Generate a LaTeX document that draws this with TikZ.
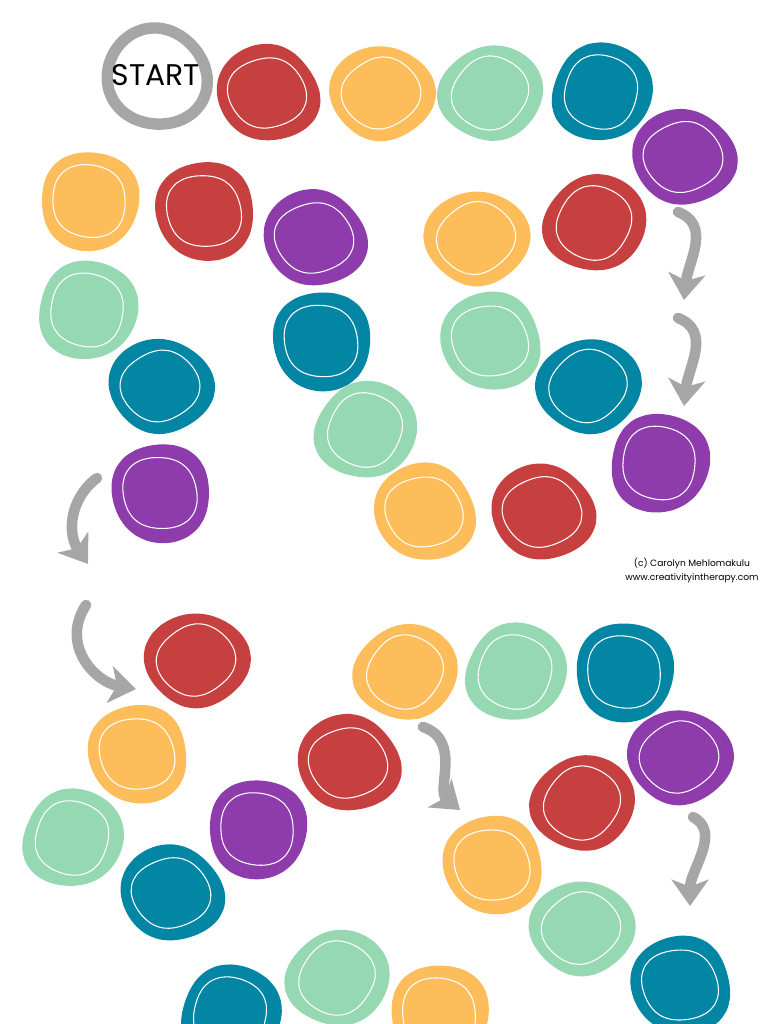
\documentclass[tikz,border=0pt]{standalone}
\usepackage{fontspec}
\setmainfont{Poppins}
\usetikzlibrary{arrows.meta}
\definecolor{spotred}{HTML}{C74040}
\definecolor{spotyellow}{HTML}{FDBD5A}
\definecolor{spotgreen}{HTML}{96D8B2}
\definecolor{spotteal}{HTML}{0386A3}
\definecolor{spotpurple}{HTML}{8E3BAB}
\definecolor{pathgray}{HTML}{A6A6A6}
\tikzset{
  ring/.style = {draw=white, line width=0.6pt},
  bend arrow/.style = {
    draw=pathgray, line width=6pt, line cap=round,
    -{Stealth[width=21pt,length=15pt,inset=4pt]}
  }
}

\begin{document}
\begin{tikzpicture}[x=0.02cm,y=-0.02cm]
  \useasboundingbox (0,0) rectangle (768,1024);
  \clip (0,0) rectangle (768,1024);
  \pgfmathsetmacro{\outer}{51};
  \pgfmathsetmacro{\inner}{38};
  % start
  \draw[pathgray,line width=6.5pt] plot[smooth cycle,domain=0:345,samples=24,variable=\t]
    ({157+49*(1+0.03*sin(2*\t+40)+0.02*sin(3*\t+10))*cos(\t)},{77+49*(1+0.03*sin(2*\t+40)+0.02*sin(3*\t+10))*sin(\t)});
  \node (start) at (156,75) {\fontsize{17}{20}\selectfont START};
  % spots
  \foreach \cx/\cy/\col/\ph in {
      268/93/spotred/10, 382/93/spotyellow/70, 491/93/spotgreen/130, 602/92/spotteal/200,
      684/157/spotpurple/40,
      90/201/spotyellow/250, 205/211/spotred/300, 315/238/spotpurple/20,
      477/238/spotyellow/90, 595/223/spotred/160,
      88/310/spotgreen/220, 322/341/spotteal/280, 491/341/spotgreen/330,
      161/386/spotteal/60, 589/386/spotteal/110,
      366/430/spotgreen/170, 660/463/spotpurple/230,
      161/493/spotpurple/290, 425/512/spotyellow/350, 543/512/spotred/30,
      197/660/spotred/80, 406/672/spotyellow/140, 516/672/spotgreen/190, 625/672/spotteal/260,
      138/754/spotyellow/310, 349/763/spotred/15, 680/757/spotpurple/75,
      583/803/spotred/135, 73/838/spotgreen/195, 258/829/spotpurple/255,
      493/865/spotyellow/315, 172/893/spotteal/25, 582/928/spotgreen/85,
      338/978/spotgreen/145, 231/1014/spotteal/205, 440/1014/spotyellow/265, 681/985/spotteal/325} {%
    \fill[\col] plot[smooth cycle,domain=0:345,samples=24,variable=\t]
      ({\cx+\outer*(1+0.035*sin(2*\t+\ph)+0.02*sin(3*\t+2*\ph)+0.015*sin(4*\t+\ph))*cos(\t)},
       {\cy+\outer*(0.95+0.035*sin(2*\t+\ph)+0.02*sin(3*\t+2*\ph)+0.015*sin(4*\t+\ph))*sin(\t)});
    \draw[ring] plot[smooth cycle,domain=0:345,samples=24,variable=\t]
      ({\cx-1+\inner*(1+0.035*sin(2*\t+\ph+60)+0.025*sin(4*\t+\ph))*cos(\t)},
       {\cy+\inner*(0.95+0.035*sin(2*\t+\ph+60)+0.025*sin(4*\t+\ph))*sin(\t)});
  }
  % arrows
  \draw[bend arrow] (678,212) .. controls (712,225) and (688,262) .. (684,300);
  \draw[bend arrow] (678,318) .. controls (712,331) and (688,368) .. (684,406);
  \draw[bend arrow] (97,478) .. controls (68,500) and (68,535) .. (88,564);
  \draw[bend arrow] (86,605) .. controls (60,645) and (95,682) .. (136,689);
  \draw[bend arrow] (423,727) .. controls (462,740) and (436,790) .. (460,810);
  \draw[bend arrow] (693,817) .. controls (722,832) and (690,870) .. (690,906);
  % credit
  \node[align=center,font=\fontsize{5.2}{8}\selectfont] (credit) at (692,570)
    {(c) Carolyn Mehlomakulu\\www.creativityintherapy.com};
\end{tikzpicture}
\end{document}
